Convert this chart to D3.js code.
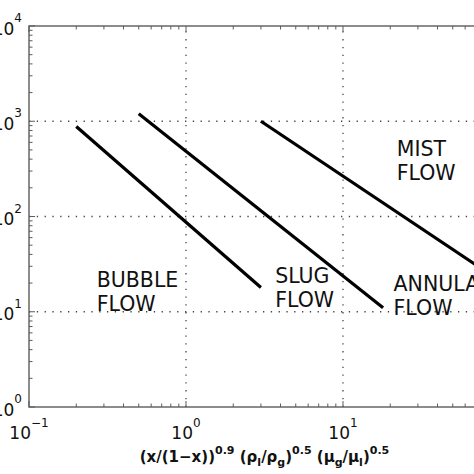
<!DOCTYPE html>
<html>
<head>
<meta charset="utf-8">
<script src="https://cdn.jsdelivr.net/npm/d3@7"></script>
<style>
html,body{margin:0;padding:0;background:#fff;overflow:hidden;}
svg{display:block;}
</style>
</head>
<body>
<svg id="chart" width="474" height="474"></svg>
<script>
// ---- data ----
const xTickExponents = [-1, 0, 1, 2];
const yTickExponents = [0, 1, 2, 3, 4];
const boundaryNames = ["bubble-slug", "slug-annular", "annular-mist"];
const boundaryX = [[0.2, 3], [0.5, 18], [3, 100]];
const boundaryY = [[880, 18], [1200, 11], [1000, 21]];
const regionNames = [["BUBBLE", "FLOW"], ["SLUG", "FLOW"], ["ANNULAR", "FLOW"], ["MIST", "FLOW"]];
const regionX = [0.27, 3.7, 21, 22];
const regionY = [18, 20, 16.5, 432];

// ---- chart ----
const svg = d3.select("#chart");
const W = 474, H = 474;
svg.append("rect").attr("width", W).attr("height", H).attr("fill", "#fff");

const x = d3.scaleLog().domain([0.1, 100]).range([29, 500]);
const y = d3.scaleLog().domain([1, 10000]).range([407, 26]);
const [x0, x1] = x.range();
const [y0, y1] = y.range();

const axisColor = "#5c5c5c";
const g = svg.append("g");

// grid (dotted) at interior decades
const gridX = xTickExponents.map(e => Math.pow(10, e)).filter(v => v > 0.1 && v < 100);
const gridY = yTickExponents.map(e => Math.pow(10, e)).filter(v => v > 1 && v < 10000);
g.selectAll("line.gx").data(gridX).join("line")
  .attr("x1", d => x(d)).attr("x2", d => x(d))
  .attr("y1", y0).attr("y2", y1)
  .attr("stroke", "#444").attr("stroke-width", 1.3)
  .attr("stroke-dasharray", "1.3,6.5");
g.selectAll("line.gy").data(gridY).join("line")
  .attr("y1", d => y(d)).attr("y2", d => y(d))
  .attr("x1", x0).attr("x2", x1)
  .attr("stroke", "#444").attr("stroke-width", 1.3)
  .attr("stroke-dasharray", "1.3,6.5");

// minor / major ticks
function logTicks(lo, hi) {
  const out = [];
  for (let e = lo; e < hi; e++) {
    for (let m = 1; m <= 9; m++) out.push({v: m * Math.pow(10, e), major: m === 1});
  }
  out.push({v: Math.pow(10, hi), major: true});
  return out;
}
const xt = logTicks(-1, 2), yt = logTicks(0, 4);
const tickLen = d => d.major ? 6 : 3.5;
// bottom & top
g.selectAll("line.tb").data(xt).join("line")
  .attr("x1", d => x(d.v)).attr("x2", d => x(d.v))
  .attr("y1", y0).attr("y2", d => y0 - tickLen(d))
  .attr("stroke", axisColor).attr("stroke-width", 1);
g.selectAll("line.tt").data(xt).join("line")
  .attr("x1", d => x(d.v)).attr("x2", d => x(d.v))
  .attr("y1", y1).attr("y2", d => y1 + tickLen(d))
  .attr("stroke", axisColor).attr("stroke-width", 1);
g.selectAll("line.tl").data(yt).join("line")
  .attr("y1", d => y(d.v)).attr("y2", d => y(d.v))
  .attr("x1", x0).attr("x2", d => x0 + tickLen(d))
  .attr("stroke", axisColor).attr("stroke-width", 1);
g.selectAll("line.tr").data(yt).join("line")
  .attr("y1", d => y(d.v)).attr("y2", d => y(d.v))
  .attr("x1", x1).attr("x2", d => x1 - tickLen(d))
  .attr("stroke", axisColor).attr("stroke-width", 1);

// axis box
g.append("rect")
  .attr("x", x0).attr("y", y1).attr("width", x1 - x0).attr("height", y0 - y1)
  .attr("fill", "none").attr("stroke", axisColor).attr("stroke-width", 1.4);

// tick labels
const font = "'DejaVu Sans', sans-serif";
const fmtExp = e => (e < 0 ? "\u2212" : "") + Math.abs(e);
const xl = svg.selectAll("text.xl").data(xTickExponents).join("text")
  .attr("x", e => x(Math.pow(10, e)))
  .attr("y", y0 + 32)
  .attr("text-anchor", "middle")
  .attr("font-family", font).attr("font-size", 17).attr("fill", "#111");
xl.append("tspan").text("10");
xl.append("tspan").attr("dy", -12.5).attr("font-size", 12).text(e => fmtExp(e));

const yl = svg.selectAll("text.yl").data(yTickExponents).join("text")
  .attr("x", x0 - 7)
  .attr("y", e => y(Math.pow(10, e)) + 8.5)
  .attr("text-anchor", "end")
  .attr("font-family", font).attr("font-size", 17).attr("fill", "#111");
yl.append("tspan").text("10");
yl.append("tspan").attr("dy", -12.5).attr("font-size", 12).text(e => fmtExp(e));

// x axis title
const xt2 = svg.append("text")
  .attr("x", (x0 + x1) / 2).attr("y", 462)
  .attr("text-anchor", "middle")
  .attr("font-family", font).attr("font-weight", "bold").attr("font-size", 15).attr("fill", "#111");
const parts = [
  ["(x/(1\u2212x))", 0], ["0.9", 1], [" (\u03c1", 0], ["l", -1], ["/\u03c1", 0], ["g", -1], [")", 0], ["0.5", 1],
  [" (\u03bc", 0], ["g", -1], ["/\u03bc", 0], ["l", -1], [")", 0], ["0.5", 1]
];
let cur = 0;
parts.forEach(([t, s]) => {
  const target = s === 1 ? -8 : (s === -1 ? 4 : 0);
  const ts = xt2.append("tspan").text(t).attr("dy", target - cur);
  if (s !== 0) ts.attr("font-size", 11);
  cur = target;
});

// boundary lines
const lineGen = d3.line().x(d => x(d[0])).y(d => y(d[1]));
svg.append("g").selectAll("path").data(boundaryNames.map((n, i) =>
    boundaryX[i].map((xv, j) => [xv, boundaryY[i][j]])))
  .join("path")
  .attr("d", lineGen)
  .attr("fill", "none").attr("stroke", "#000").attr("stroke-width", 3.2)
  .attr("stroke-linecap", "butt");

// region labels
const rl = svg.append("g").selectAll("text").data(regionNames).join("text")
  .attr("x", (d, i) => x(regionX[i]))
  .attr("y", (d, i) => y(regionY[i]))
  .attr("font-family", font).attr("font-size", 20.5).attr("fill", "#111");
rl.each(function(d) {
  const t = d3.select(this);
  const xx = t.attr("x");
  d.forEach((line, k) => t.append("tspan").attr("x", xx).attr("dy", k === 0 ? 0 : 24).text(line));
});
</script>
</body>
</html>
